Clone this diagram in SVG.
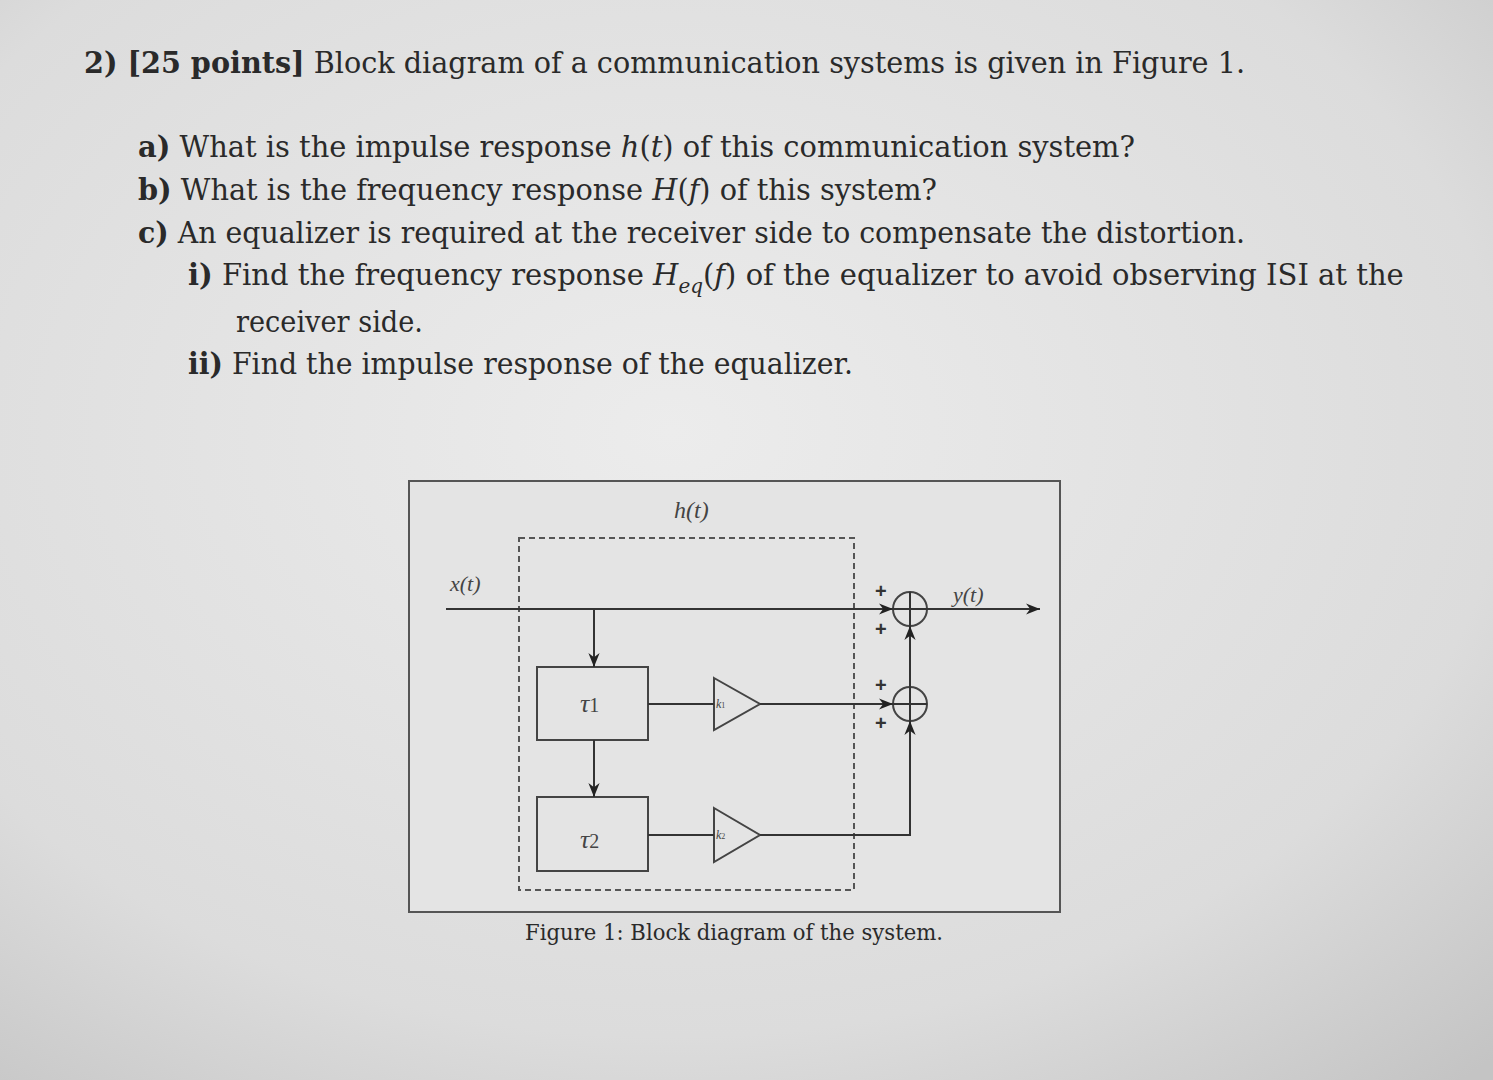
<svg xmlns="http://www.w3.org/2000/svg" width="1493" height="1080" viewBox="0 0 1493 1080">
<defs>
<radialGradient id="bg" cx="0.45" cy="0.4" r="0.8">
<stop offset="0" stop-color="#ececec"/><stop offset="0.7" stop-color="#dcdcdc"/><stop offset="1" stop-color="#c4c4c4"/>
</radialGradient>
<marker id="ar" viewBox="0 0 10 10" refX="10" refY="5" markerWidth="14" markerHeight="14" orient="auto" markerUnits="userSpaceOnUse">
<path d="M0,1 L10,5 L0,9 L3,5 Z" fill="#222"/>
</marker>
<style>
.t{font-family:"DejaVu Serif","Liberation Serif",serif;font-size:29px;fill:#2a2a2a}
.b{font-weight:bold}
.m{font-family:"Liberation Serif",serif;font-style:italic;fill:#444}
.ln{stroke:#333;stroke-width:2;fill:none}
.bx{stroke:#444;stroke-width:2;fill:none}
</style>
</defs>
<rect width="1493" height="1080" fill="url(#bg)"/>
<g id="text">
<text class="t" x="84" y="73" textLength="1161" lengthAdjust="spacingAndGlyphs"><tspan class="b">2) [25 points]</tspan> Block diagram of a communication systems is given in Figure 1.</text>
<text class="t" x="138" y="157" textLength="997" lengthAdjust="spacingAndGlyphs"><tspan class="b">a)</tspan> What is the impulse response <tspan font-style="italic">h</tspan>(<tspan font-style="italic">t</tspan>) of this communication system?</text>
<text class="t" x="138" y="200" textLength="799" lengthAdjust="spacingAndGlyphs"><tspan class="b">b)</tspan> What is the frequency response <tspan font-style="italic">H</tspan>(<tspan font-style="italic">f</tspan>) of this system?</text>
<text class="t" x="138" y="243" textLength="1107" lengthAdjust="spacingAndGlyphs"><tspan class="b">c)</tspan> An equalizer is required at the receiver side to compensate the distortion.</text>
<text class="t" x="188" y="285"><tspan class="b">i)</tspan> Find the frequency response <tspan font-style="italic">H</tspan><tspan font-style="italic" font-size="20" dy="8">eq</tspan><tspan dy="-8">(</tspan><tspan font-style="italic">f</tspan>) of the equalizer to avoid observing ISI at the</text>
<text class="t" x="236" y="332" textLength="187" lengthAdjust="spacingAndGlyphs">receiver side.</text>
<text class="t" x="188" y="374" textLength="665" lengthAdjust="spacingAndGlyphs"><tspan class="b">ii)</tspan> Find the impulse response of the equalizer.</text>
</g>
<rect x="409" y="481" width="651" height="431" fill="#e4e4e4" stroke="#555" stroke-width="2"/>
<rect id="hbox" x="519" y="538" width="335" height="352" fill="none" stroke="#555" stroke-width="2" stroke-dasharray="6,4"/>
<text class="m" x="674" y="518" font-size="24">h(t)</text>
<text class="m" x="450" y="591" font-size="22">x(t)</text>
<text class="m" x="953" y="602" font-size="22">y(t)</text>
<g id="T1"><rect class="bx" x="537" y="667" width="111" height="73"/><text class="m" x="580" y="712" font-size="26">τ<tspan font-style="normal" font-size="20">1</tspan></text></g>
<g id="T2"><rect class="bx" x="537" y="797" width="111" height="74"/><text class="m" x="580" y="848" font-size="26">τ<tspan font-style="normal" font-size="20">2</tspan></text></g>
<g id="k1"><path class="bx" d="M714,678 L760,704 L714,730 Z"/><text class="m" x="716" y="708" font-size="12">k<tspan font-style="normal" font-size="8">1</tspan></text></g>
<g id="k2"><path class="bx" d="M714,808 L760,835 L714,862 Z"/><text class="m" x="716" y="839" font-size="12">k<tspan font-style="normal" font-size="8">2</tspan></text></g>
<g id="sum1"><circle class="bx" cx="910" cy="609" r="17"/><path class="ln" d="M893,609 H927 M910,592 V626"/></g>
<g id="sum2"><circle class="bx" cx="910" cy="704" r="17"/><path class="ln" d="M893,704 H927 M910,687 V721"/></g>
<g id="signs" font-family="Liberation Sans,sans-serif" font-weight="bold" font-size="20" fill="#333">
<text x="875" y="598">+</text><text x="875" y="636">+</text>
<text x="875" y="692">+</text><text x="875" y="730">+</text>
</g>
<g id="connectors">
<path class="ln" d="M446,609 H893" marker-end="url(#ar)"/>
<path class="ln" d="M927,609 H1040" marker-end="url(#ar)"/>
<path class="ln" d="M594,609 V667" marker-end="url(#ar)"/>
<path class="ln" d="M594,740 V797" marker-end="url(#ar)"/>
<path class="ln" d="M648,704 H714"/>
<path class="ln" d="M648,835 H714"/>
<path class="ln" d="M760,704 H893" marker-end="url(#ar)"/>
<path class="ln" d="M760,835 H910 V721" marker-end="url(#ar)"/>
<path class="ln" d="M910,687 V626" marker-end="url(#ar)"/>
</g>
<text x="525" y="940" font-family="DejaVu Serif,serif" font-size="22" fill="#2a2a2a" textLength="418" lengthAdjust="spacingAndGlyphs">Figure 1: Block diagram of the system.</text>
</svg>
